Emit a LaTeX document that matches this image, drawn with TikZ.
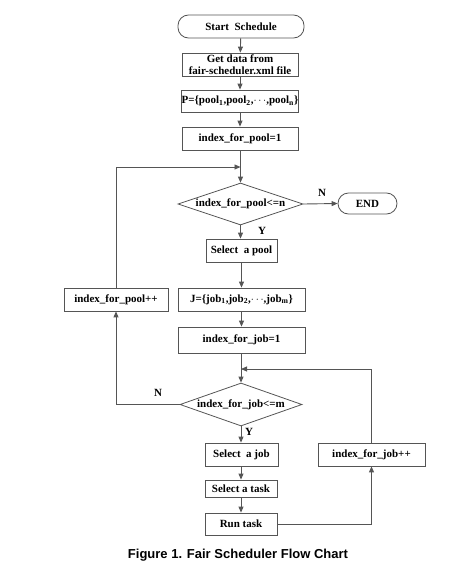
\documentclass[tikz,border=0pt]{standalone}
\usepackage{fontspec}
\setmainfont{Liberation Serif}
\newfontfamily\capfont{Liberation Sans}
\usetikzlibrary{arrows.meta,shapes.geometric}
\definecolor{ln}{HTML}{555555}
\tikzset{
  box/.style={draw=ln, line width=0.8pt, rectangle, inner sep=0pt, align=center,
    font=\fontsize{11}{12}\selectfont\bfseries},
  term/.style={box, rounded corners=10.5pt},
  decide/.style={draw=ln, line width=0.8pt, diamond, inner sep=0pt},
  dtext/.style={inner sep=0pt, font=\fontsize{11}{12}\selectfont\bfseries},
  lbl/.style={inner sep=0pt, font=\fontsize{11}{12}\selectfont\bfseries},
  conn/.style={draw=ln, line width=0.9pt},
  arr/.style={conn, -{Triangle[length=6pt,width=5pt]}},
}
\begin{document}
\begin{tikzpicture}[x=1pt,y=-1pt]
\useasboundingbox (0,0) rectangle (474,562);
% nodes
\node[term, minimum width=126, minimum height=23] (start) at (241,26.5) {Start\ \ Schedule};
\node[box, minimum width=116, minimum height=23] (get) at (240,64.5) {Get data from\\fair-scheduler.xml file};
\node[box, minimum width=116, minimum height=22] (P) at (240,101) {P=\{pool\textsubscript{1},pool\textsubscript{2},$\cdots$,pool\textsubscript{n}\}};
\node[box, minimum width=116, minimum height=23] (idx1) at (240,138.5) {index\_for\_pool=1};
\node[decide, minimum width=125, minimum height=42] (dpool) at (240.5,204) {};
\node[dtext] (dpooltxt) at (dpool.center) {index\_for\_pool<=n};
\node[term, minimum width=59, minimum height=21] (end) at (367.5,203.5) {END};
\node[box, minimum width=71, minimum height=23] (spool) at (241.5,250.5) {Select\ \ a pool};
\node[box, minimum width=127, minimum height=23] (J) at (241.5,299.5) {J=\{job\textsubscript{1},job\textsubscript{2},$\cdots$,job\textsubscript{m}\}};
\node[box, minimum width=104, minimum height=23] (ipp) at (116,299.5) {index\_for\_pool++};
\node[box, minimum width=127, minimum height=26] (ij1) at (241.5,340) {index\_for\_job=1};
\node[decide, minimum width=122, minimum height=43] (djob) at (241,404.5) {};
\node[dtext] (djobtxt) at (djob.center) {index\_for\_job<=m};
\node[box, minimum width=73, minimum height=23] (sjob) at (241.5,454.5) {Select\ \ a job};
\node[box, minimum width=107, minimum height=23] (ijpp) at (371.5,454.5) {index\_for\_job++};
\node[box, minimum width=72, minimum height=17] (stask) at (241,488.5) {Select a task};
\node[box, minimum width=72, minimum height=22] (run) at (241,524) {Run task};
% joins
\coordinate (j1) at (dpool.north |- 0,167);
\coordinate (j2) at (djob.north |- 0,369);
% connectors
\draw[arr] (start) -- (get);
\draw[arr] (get) -- (P);
\draw[arr] (P) -- (idx1);
\draw[arr] (idx1.south -| dpool.north) -- (dpool.north);
\draw[arr] (ipp.north) |- (j1);
\draw[arr] (dpool.east) -- (end.west);
\draw[arr] (dpool.south) -- (dpool.south |- spool.north);
\draw[arr] (spool.south) -- (J.north);
\draw[arr] (J) -- (ij1);
\draw[arr] (ij1.south -| djob.north) -- (djob.north);
\draw[arr] (ijpp.north) |- (j2);
\draw[arr] (djob.west) -| (ipp.south);
\draw[arr] (djob.south) -- (djob.south |- sjob.north);
\draw[arr] (sjob.south -| stask.north) -- (stask.north);
\draw[arr] (stask) -- (run);
\draw[arr] (run.east) -| (ijpp.south);
% labels
\node[lbl] (nlab1) at (322,193) {N};
\node[lbl] (ylab1) at (262,231) {Y};
\node[lbl] (nlab2) at (158,393) {N};
\node[lbl] (ylab2) at (249,432) {Y};
% caption
\node[inner sep=0pt, font=\capfont\fontsize{13}{15}\selectfont\bfseries] (cap) at (238,555) {Figure 1. Fair Scheduler Flow Chart};
\end{tikzpicture}
\end{document}
